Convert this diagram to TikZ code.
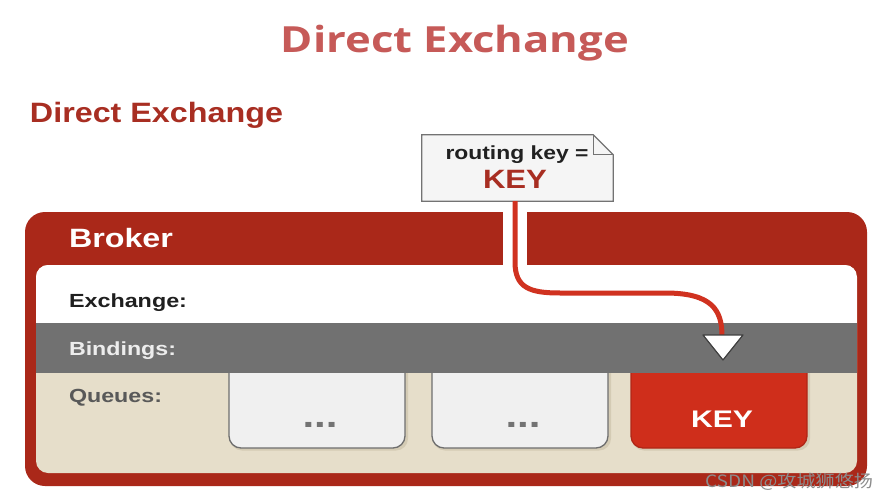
\documentclass[tikz,border=0pt]{standalone}
\usepackage{fontspec}
\usepackage{graphicx}
\setmainfont{Liberation Sans}
\newfontfamily\titlefont{Open Sans}
\newfontfamily\cjkfont{Noto Sans CJK SC}
\definecolor{brokerred}{RGB}{170,40,25}
\definecolor{titlered}{RGB}{198,90,88}
\definecolor{subred}{RGB}{168,46,34}
\definecolor{beige}{RGB}{230,222,202}
\definecolor{bandgray}{RGB}{113,113,113}
\definecolor{qfill}{RGB}{240,240,240}
\definecolor{qborder}{RGB}{110,110,110}
\definecolor{keyred}{RGB}{207,46,27}
\definecolor{linered}{RGB}{208,50,32}
\definecolor{notefill}{RGB}{245,245,245}
\definecolor{shadowc}{RGB}{212,203,180}
\newcommand\fitw[2]{\resizebox{#1pt}{\height}{#2}}
\tikzset{
  txt/.style={inner sep=0pt, outer sep=0pt},
  qbox/.style={draw=qborder, fill=qfill, line width=1.3pt, rounded corners=12pt, minimum width=176pt, minimum height=93pt, inner sep=0pt},
  keybox/.style={qbox, draw=keyred!85!black, fill=keyred},
  qshadow/.style={fill=shadowc, rounded corners=12pt, minimum width=178pt, minimum height=93pt, inner sep=0pt},
  notebox/.style={draw=gray!90!black, fill=notefill, line width=1.2pt, line join=miter}
}
\begin{document}
\begin{tikzpicture}[x=1pt,y=-1pt]
\useasboundingbox[fill=white] (0,0) rectangle (891,500);

% titles
\node[txt, anchor=base, text=titlered] (title) at (455,53)
  {\fitw{348}{\fontsize{36}{36}\titlefont\bfseries Direct Exchange}};
\node[txt, anchor=base west, text=subred] (sub) at (30,123)
  {\fitw{253}{\fontsize{28}{28}\selectfont\bfseries Direct Exchange}};

% broker outer box
\fill[brokerred, rounded corners=20pt] (25,212) rectangle (867,486);
\fill[white] (503,211) rectangle (527,268);
% inner panel
\fill[beige, rounded corners=12pt] (36,265) rectangle (857,473);

% queue shadows and boxes
\node[qshadow] (s1) at (319,404) {};
\node[qshadow] (s2) at (522,404) {};
\node[qshadow] (s3) at (721,404) {};
\node[qbox] (q1) at (317,401.5) {};
\node[qbox] (q2) at (520,401.5) {};
\node[keybox] (q3) at (719,401.5) {};

\begin{scope}
  \clip[rounded corners=12pt] (36,265) rectangle (857,473);
  \fill[white] (36,265) rectangle (857,323);
  \fill[bandgray] (36,323) rectangle (857,373);
\end{scope}

% labels in broker
\node[txt, anchor=base west, text=white] (broker) at (69,247)
  {\fitw{104}{\fontsize{26.5}{26.5}\selectfont\bfseries Broker}};
\node[txt, anchor=base west, text=black!88] (exch) at (69,307)
  {\fitw{118}{\fontsize{19}{19}\selectfont\bfseries Exchange:}};
\node[txt, anchor=base west, text=white!93!black] (bind) at (69,355)
  {\fitw{107}{\fontsize{19}{19}\selectfont\bfseries Bindings:}};
\node[txt, anchor=base west, text=black!65] (queues) at (69,402)
  {\fitw{93}{\fontsize{19}{19}\selectfont\bfseries Queues:}};

% dots and key
\node[txt, anchor=base, text=black!55] (d1) at (320,427)
  {\fitw{35}{\fontsize{34}{34}\selectfont\bfseries ...}};
\node[txt, anchor=base, text=black!55] (d2) at (523,427)
  {\fitw{35}{\fontsize{34}{34}\selectfont\bfseries ...}};
\node[txt, anchor=base, text=white] (k2) at (722,427)
  {\fitw{62}{\fontsize{24}{24}\selectfont\bfseries KEY}};

% note
\node[minimum width=191pt, minimum height=66pt, inner sep=0pt] (note) at (517.5,168) {};
\draw[notebox] (note.north west) -- ([xshift=-20pt]note.north east)
  -- ([yshift=-20pt]note.north east) -- (note.south east)
  -- (note.south west) -- cycle;
\draw[notebox, fill=none] ([xshift=-20pt]note.north east)
  -- ([xshift=-20pt,yshift=-20pt]note.north east)
  -- ([yshift=-20pt]note.north east);
\node[txt, anchor=base, text=black!87] (rk) at (517,160)
  {\fitw{143}{\fontsize{19}{19}\selectfont\bfseries routing key =}};
\node[txt, anchor=base, text=subred] (k1) at (515,188)
  {\fitw{64}{\fontsize{26.5}{26.5}\selectfont\bfseries KEY}};

% connector and binding triangle
\coordinate (tri) at (722,336);
\draw[linered, line width=5pt] ([xshift=-2.5pt]note.south) -- (515,262)
  .. controls (515,288) and (530,293) .. (560,293) -- (665,293)
  .. controls (712,293) and (722,310) .. (tri);
\draw[fill=white, draw=black!75, line width=1.2pt, line join=round]
  (703,335) -- (743,335) -- (723,360) -- cycle;

% watermark
\node[txt, anchor=base west, text=black!45] (wm) at (705,487)
  {\fitw{168}{\fontsize{17}{17}\cjkfont CSDN @攻城狮悠扬}};
\end{tikzpicture}
\end{document}
